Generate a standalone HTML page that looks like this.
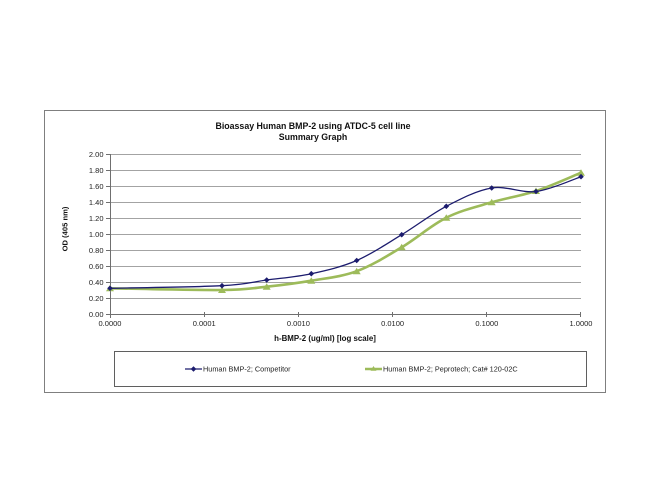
<!DOCTYPE html>
<html><head><meta charset="utf-8"><style>
html,body{margin:0;padding:0;background:#fff;}
svg{display:block;}
text{font-family:"Liberation Sans",Arial,sans-serif;}
</style></head><body>
<svg width="650" height="502" viewBox="0 0 650 502" xmlns="http://www.w3.org/2000/svg">
<rect x="0" y="0" width="650" height="502" fill="#fff"/>
<!-- outer frame -->
<rect x="44.5" y="110.5" width="561" height="282" fill="#fff" stroke="#7f7f7f" stroke-width="1"/>
<!-- title -->
<text x="313" y="129" font-size="8.8" font-weight="bold" text-anchor="middle" fill="#111">Bioassay Human BMP-2 using ATDC-5 cell line</text>
<text x="313" y="140" font-size="8.8" font-weight="bold" text-anchor="middle" fill="#111">Summary Graph</text>
<!-- gridlines -->
<g stroke="#a3a3a3" stroke-width="1">
<line x1="110" y1="154.5" x2="581" y2="154.5"/>
<line x1="110" y1="170.5" x2="581" y2="170.5"/>
<line x1="110" y1="186.5" x2="581" y2="186.5"/>
<line x1="110" y1="202.5" x2="581" y2="202.5"/>
<line x1="110" y1="218.5" x2="581" y2="218.5"/>
<line x1="110" y1="234.5" x2="581" y2="234.5"/>
<line x1="110" y1="250.5" x2="581" y2="250.5"/>
<line x1="110" y1="266.5" x2="581" y2="266.5"/>
<line x1="110" y1="282.5" x2="581" y2="282.5"/>
<line x1="110" y1="298.5" x2="581" y2="298.5"/>
</g>
<!-- axes -->
<g stroke="#6f6f6f" stroke-width="1">
<line x1="110.5" y1="154" x2="110.5" y2="314"/>
<line x1="110" y1="314.5" x2="581" y2="314.5"/>
<line x1="106" y1="154.5" x2="110" y2="154.5"/>
<line x1="106" y1="170.5" x2="110" y2="170.5"/>
<line x1="106" y1="186.5" x2="110" y2="186.5"/>
<line x1="106" y1="202.5" x2="110" y2="202.5"/>
<line x1="106" y1="218.5" x2="110" y2="218.5"/>
<line x1="106" y1="234.5" x2="110" y2="234.5"/>
<line x1="106" y1="250.5" x2="110" y2="250.5"/>
<line x1="106" y1="266.5" x2="110" y2="266.5"/>
<line x1="106" y1="282.5" x2="110" y2="282.5"/>
<line x1="106" y1="298.5" x2="110" y2="298.5"/>
<line x1="106" y1="314.5" x2="110" y2="314.5"/>
<line x1="110.5" y1="314" x2="110.5" y2="318"/>
<line x1="204.5" y1="312" x2="204.5" y2="317"/>
<line x1="298.5" y1="312" x2="298.5" y2="317"/>
<line x1="392.5" y1="312" x2="392.5" y2="317"/>
<line x1="486.5" y1="312" x2="486.5" y2="317"/>
<line x1="580.5" y1="312" x2="580.5" y2="317"/>
</g>
<!-- y tick labels -->
<g font-size="7.5" text-anchor="end" fill="#222">
<text x="103.5" y="157">2.00</text>
<text x="103.5" y="173">1.80</text>
<text x="103.5" y="189">1.60</text>
<text x="103.5" y="205">1.40</text>
<text x="103.5" y="221">1.20</text>
<text x="103.5" y="237">1.00</text>
<text x="103.5" y="253">0.80</text>
<text x="103.5" y="269">0.60</text>
<text x="103.5" y="285">0.40</text>
<text x="103.5" y="301">0.20</text>
<text x="103.5" y="317">0.00</text>
</g>
<!-- x tick labels -->
<g font-size="7.5" text-anchor="middle" fill="#222">
<text x="110" y="326">0.0000</text>
<text x="204.2" y="326">0.0001</text>
<text x="298.4" y="326">0.0010</text>
<text x="392.6" y="326">0.0100</text>
<text x="486.8" y="326">0.1000</text>
<text x="581" y="326">1.0000</text>
</g>
<!-- axis titles -->
<text x="325" y="341" font-size="7.9" font-weight="bold" text-anchor="middle" fill="#111">h-BMP-2 (ug/ml) [log scale]</text>
<text x="0" y="0" font-size="7.6" font-weight="bold" text-anchor="middle" fill="#111" transform="translate(67.5,229) rotate(-90)">OD (405 nm)</text>
<!-- green series -->
<path d="M110,288.3 C128.7,288.6 195.9,290.3 222,290 C248.1,289.7 251.8,288.25 266.7,286.7 C281.6,285.15 296.3,283.3 311.3,280.7 C326.3,278.1 341.6,276.8 356.7,271.2 C371.8,265.6 386.8,256.2 401.7,247.3 C416.6,238.4 431.3,225.2 446.3,217.7 C461.3,210.2 476.75,206.75 491.7,202.3 C506.65,197.85 521.1,195.9 536,191 C550.9,186.1 573.5,175.75 581,172.7" fill="none" stroke="#9dbb5a" stroke-width="2.6" stroke-linejoin="round"/>
<g fill="#9dbb5a">
<polygon points="110,284.8 114,291.3 106,291.3"/>
<polygon points="222,286.5 226,293 218,293"/>
<polygon points="266.7,283.2 270.7,289.7 262.7,289.7"/>
<polygon points="311.3,277.2 315.3,283.7 307.3,283.7"/>
<polygon points="356.7,267.7 360.7,274.2 352.7,274.2"/>
<polygon points="401.7,243.8 405.7,250.3 397.7,250.3"/>
<polygon points="446.3,214.2 450.3,220.7 442.3,220.7"/>
<polygon points="491.7,198.8 495.7,205.3 487.7,205.3"/>
<polygon points="536,187.5 540,194 532,194"/>
<polygon points="581,169.2 585,175.7 577,175.7"/>
</g>
<!-- blue series -->
<path d="M110,288.3 C128.7,287.9 195.9,287.1 222,285.7 C248.1,284.3 251.8,282 266.7,280 C281.6,278 296.3,276.95 311.3,273.7 C326.3,270.45 341.6,267 356.7,260.5 C371.8,254 386.8,243.7 401.7,234.7 C416.6,225.7 431.3,214.1 446.3,206.3 C461.3,198.5 476.75,190.5 491.7,188 C506.65,185.5 521.1,193.4 536,191.5 C550.9,189.6 573.5,179.2 581,176.7" fill="none" stroke="#1c1c6e" stroke-width="1.3" stroke-linejoin="round"/>
<g fill="#1c1c6e">
<polygon points="110,285.5 112.8,288.3 110,291.1 107.2,288.3"/>
<polygon points="222,282.9 224.8,285.7 222,288.5 219.2,285.7"/>
<polygon points="266.7,277.2 269.5,280 266.7,282.8 263.9,280"/>
<polygon points="311.3,270.9 314.1,273.7 311.3,276.5 308.5,273.7"/>
<polygon points="356.7,257.7 359.5,260.5 356.7,263.3 353.9,260.5"/>
<polygon points="401.7,231.9 404.5,234.7 401.7,237.5 398.9,234.7"/>
<polygon points="446.3,203.5 449.1,206.3 446.3,209.1 443.5,206.3"/>
<polygon points="491.7,185.2 494.5,188 491.7,190.8 488.9,188"/>
<polygon points="536,188.7 538.8,191.5 536,194.3 533.2,191.5"/>
<polygon points="581,173.9 583.8,176.7 581,179.5 578.2,176.7"/>
</g>
<!-- legend -->
<rect x="114.5" y="351.5" width="472" height="35" fill="#fff" stroke="#5f5f5f" stroke-width="1"/>
<line x1="185" y1="369" x2="202" y2="369" stroke="#1c1c6e" stroke-width="1.3"/>
<polygon points="193.5,366.2 196.3,369 193.5,371.8 190.7,369" fill="#1c1c6e"/>
<text x="203" y="371.6" font-size="7.3" fill="#222">Human BMP-2; Competitor</text>
<line x1="365" y1="369" x2="382" y2="369" stroke="#9dbb5a" stroke-width="2.6"/>
<polygon points="373.5,366 376.5,370.8 370.5,370.8" fill="#9dbb5a"/>
<text x="383" y="371.6" font-size="7.3" fill="#222">Human BMP-2; Peprotech; Cat# 120-02C</text>
</svg>
</body></html>
